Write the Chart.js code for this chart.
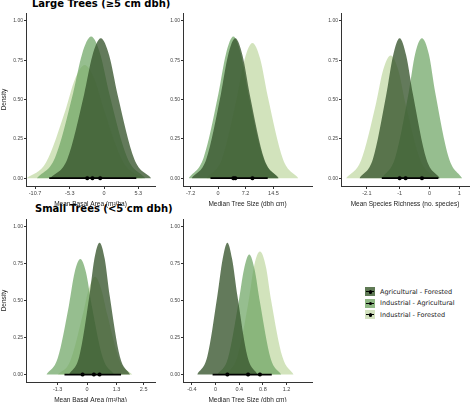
<!DOCTYPE html>
<html>
<head>
<meta charset="utf-8">
<script src="https://cdn.jsdelivr.net/npm/chart.js@4"></script>
<style>
  body { margin: 0; background: #fff; font-family: "DejaVu Sans", sans-serif; }
  #wrap { position: relative; width: 474px; height: 402px; overflow: hidden; }
  canvas { position: absolute; }
  .title { position: absolute; font-weight: bold; font-size: 10px; color: #000; }
  #legend { position: absolute; left: 365px; top: 286px; font-size: 6.5px; color: #222; }
  .item { display: flex; align-items: center; height: 11.5px; }
  .key { width: 10px; height: 9px; margin-right: 5px; position: relative; }
  .key::after { content: ""; position: absolute; left: 1px; right: 1px; top: 4px; height: 1.2px; background: #000; }
  .key::before { content: ""; position: absolute; left: 3.5px; top: 2.8px; width: 3.5px; height: 3.5px; border-radius: 50%; background: #000; }
</style>
</head>
<body>
<div id="wrap">
  <div class="title" style="left:32px;top:-2px">Large Trees (≥5 cm dbh)</div>
  <div class="title" style="left:35px;top:203px">Small Trees (&lt;5 cm dbh)</div>
  <canvas id="p1" style="left:0;top:8px" width="160" height="200"></canvas>
  <canvas id="p2" style="left:157px;top:8px" width="160" height="200"></canvas>
  <canvas id="p3" style="left:315px;top:8px" width="159" height="200"></canvas>
  <canvas id="p4" style="left:0;top:214px" width="160" height="190"></canvas>
  <canvas id="p5" style="left:157px;top:214px" width="160" height="190"></canvas>
  <div id="legend">
    <div class="item"><div class="key" style="background:#5f7a55"></div>Agricultural - Forested</div>
    <div class="item"><div class="key" style="background:#8fb884"></div>Industrial - Agricultural</div>
    <div class="item"><div class="key" style="background:#d3e2bf"></div>Industrial - Forested</div>
  </div>
</div>
<script>
const seriesNames = ["Agricultural - Forested", "Industrial - Agricultural", "Industrial - Forested"];
const fills = ["rgba(55,85,45,0.78)", "rgba(110,165,100,0.72)", "rgba(195,218,165,0.75)"];

// density curves: x positions and densities per panel / series
const p1X = [[-8.3,-5.7,-3.1,-1.8,-0.5,0.8,2.1,4.7,7.3], [-10.4,-7.6,-4.8,-3.4,-2,-0.6,0.8,3.6,6.4], [-12,-9,-6,-4.5,-3,-1.5,0,3,6]];
const p1Y = [[0,.12,.53,.78,.89,.78,.53,.12,0], [0,.13,.54,.79,.9,.79,.54,.13,0], [0,.1,.43,.63,.72,.63,.43,.1,0]];
const p2X = [[-6.9,-3.1,0.7,2.6,4.5,6.4,8.3,12.1,15.9], [-7.7,-3.8,0.1,2.05,4,5.95,7.9,11.8,15.7], [-3,1,5,7,9,11,13,17,21]];
const p2Y = [[0,.12,.53,.78,.89,.78,.53,.12,0], [0,.13,.54,.79,.9,.79,.54,.13,0], [0,.12,.52,.76,.86,.76,.52,.12,0]];
const p3X = [[-2.35,-1.9,-1.45,-1.22,-1,-0.78,-0.55,-0.1,0.35], [-1.6,-1.15,-0.7,-0.48,-0.25,-0.02,0.2,0.65,1.1], [-2.8,-2.3,-1.8,-1.55,-1.3,-1.05,-0.8,-0.3,0.2]];
const p3Y = [[0,.12,.53,.78,.89,.78,.53,.12,0], [0,.13,.54,.79,.89,.79,.54,.13,0], [0,.11,.47,.69,.78,.69,.47,.11,0]];
const p4X = [[-0.8,-0.35,0.1,0.32,0.55,0.78,1,1.45,1.9], [-1.8,-1.3,-0.8,-0.55,-0.3,-0.05,0.2,0.7,1.2], [-1.3,-0.75,-0.2,0.08,0.35,0.62,0.9,1.45,2.0]];
const p4Y = [[0,.12,.53,.78,.89,.78,.53,.12,0], [0,.11,.47,.69,.78,.69,.47,.11,0], [0,.09,.4,.58,.66,.58,.4,.09,0]];
const p5X = [[-0.31,-0.14,0.03,0.12,0.2,0.28,0.37,0.54,0.71], [0.03,0.21,0.39,0.48,0.57,0.66,0.75,0.93,1.11], [0.18,0.37,0.56,0.65,0.75,0.85,0.94,1.13,1.32]];
const p5Y = [[0,.12,.53,.78,.89,.78,.53,.12,0], [0,.11,.49,.71,.81,.71,.49,.11,0], [0,.12,.5,.73,.83,.73,.5,.12,0]];

// point estimates and overall interval span
const p1Est = [-0.6, -1.8, -2.6], p1Span = [-8.5, 5];
const p2Est = [4.5, 4, 9], p2Span = [-2, 13];
const p3Est = [-1, -0.25, -0.8], p3Span = [-1.6, 0.3];
const p4Est = [0.55, -0.2, 0.3], p4Span = [-1, 1.5];
const p5Est = [0.2, 0.55, 0.75], p5Span = [-0.05, 0.95];

const p1Ticks = [-10.7, -5.3, 0, 5.3];
const p2Ticks = [-7.2, 0, 7.2, 14.5];
const p3Ticks = [-2.1, -1, 0, 1];
const p4Ticks = [-1.3, 0, 1.3, 2.5];
const p5Ticks = [-0.4, 0, 0.4, 0.8, 1.2];
const densityTicks = [0, 0.25, 0.5, 0.75, 1];

function makePanel(id, xs, ys, est, span, xTicks, xMin, xMax, xTitle, showY, padRight) {
  const datasets = [];
  datasets.push({
    type: "line", data: span.map(v => ({ x: v, y: 0 })), borderColor: "#000", borderWidth: 1.6,
    pointRadius: 0, order: 0
  });
  datasets.push({
    type: "scatter", data: est.map(v => ({ x: v, y: 0 })), backgroundColor: "#000",
    pointRadius: 2, order: 0
  });
  xs.forEach((xArr, i) => {
    datasets.push({
      type: "line", label: seriesNames[i],
      data: xArr.map((x, j) => ({ x: x, y: ys[i][j] })),
      backgroundColor: fills[i], borderWidth: 0, pointRadius: 0,
      fill: "origin", tension: 0.4, cubicInterpolationMode: "monotone", order: i + 1
    });
  });
  new Chart(document.getElementById(id), {
    type: "line",
    data: { datasets: datasets },
    options: {
      responsive: false, animation: false,
      layout: { padding: { top: 3, right: padRight } },
      plugins: { legend: { display: false }, tooltip: { enabled: false } },
      scales: {
        x: {
          type: "linear", min: xMin, max: xMax,
          afterBuildTicks: s => { s.ticks = xTicks.map(v => ({ value: v })); },
          afterFit: s => { s.height = 22; },
          grid: { drawOnChartArea: false, tickLength: 3, color: "#333" },
          border: { color: "#333", width: 1 },
          ticks: { font: { size: 5.5 }, color: "#444", padding: 1, maxRotation: 0, callback: v => v },
          title: { display: true, text: xTitle, font: { size: 6.5 }, color: "#222", padding: { top: 2, bottom: 0 } }
        },
        y: {
          min: -0.05, max: 1.05,
          afterBuildTicks: s => { s.ticks = densityTicks.map(v => ({ value: v })); },
          afterFit: s => { s.width = 26; },
          grid: { drawOnChartArea: false, tickLength: 2, color: "#333" },
          border: { color: "#333", width: 1 },
          ticks: { font: { size: 5 }, color: "#444", padding: 1, callback: v => v.toFixed(2) },
          title: { display: showY, text: "Density", font: { size: 6.5 }, color: "#222", padding: 0 }
        }
      }
    }
  });
}

makePanel("p1", p1X, p1Y, p1Est, p1Span, p1Ticks, -12.1, 7.9, "Mean Basal Area (m²/ha)", true, 5);
makePanel("p2", p2X, p2Y, p2Est, p2Span, p2Ticks, -9.2, 24.6, "Median Tree Size (dbh cm)", false, 2);
makePanel("p3", p3X, p3Y, p3Est, p3Span, p3Ticks, -2.97, 1.33, "Mean Species Richness (no. species)", false, 4);
makePanel("p4", p4X, p4Y, p4Est, p4Span, p4Ticks, -2.7, 3.0, "Mean Basal Area (m²/ha)", true, 3);
makePanel("p5", p5X, p5Y, p5Est, p5Span, p5Ticks, -0.55, 1.63, "Median Tree Size (dbh cm)", false, 3);
</script>
</body>
</html>
